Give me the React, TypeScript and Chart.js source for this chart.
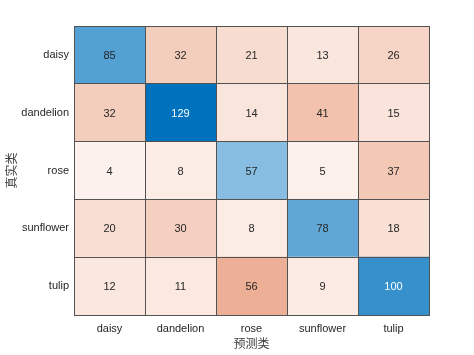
import React, { useEffect, useRef } from "react";
import { Chart, registerables } from "chart.js";

Chart.register(...registerables);

// Row labels (true class) and column labels (predicted class)
const trueClasses = ["daisy", "dandelion", "rose", "sunflower", "tulip"];
const predictedClasses = ["daisy", "dandelion", "rose", "sunflower", "tulip"];

// Confusion counts, one array per true class (columns = predicted class)
const rowDaisy = [85, 32, 21, 13, 26];
const rowDandelion = [32, 129, 14, 41, 15];
const rowRose = [4, 8, 57, 5, 37];
const rowSunflower = [20, 30, 8, 78, 18];
const rowTulip = [12, 11, 56, 9, 100];

const xTitle = "预测类";
const yTitle = "真实类";

const counts = [rowDaisy, rowDandelion, rowRose, rowSunflower, rowTulip];
const maxCount = Math.max(...counts.flat());

const DIAG_RGB = [0, 114, 189];
const OFF_RGB = [217, 83, 25];

function cellColor(v: number, diag: boolean): string {
  const t = Math.min(1, 0.05 + 0.95 * (v / maxCount));
  const base = diag ? DIAG_RGB : OFF_RGB;
  const c = base.map((b) => Math.round(255 - t * (255 - b)));
  return `rgb(${c[0]},${c[1]},${c[2]})`;
}

const FONT = "'Liberation Sans', Arial, Helvetica, sans-serif";
const GRID = "#525252";

const cellLabels = {
  id: "cellLabels",
  afterDatasetsDraw(chart: any) {
    const ctx = chart.ctx;
    ctx.save();
    ctx.font = `11px ${FONT}`;
    ctx.textAlign = "center";
    ctx.textBaseline = "middle";
    chart.data.datasets.forEach((_ds: any, j: number) => {
      const meta = chart.getDatasetMeta(j);
      meta.data.forEach((el: any, i: number) => {
        const { x, y, base } = el.getProps(["x", "y", "base"], true);
        const v = counts[i][j];
        const diag = i === j;
        ctx.fillStyle = diag && v / maxCount > 0.7 ? "#ffffff" : "#262626";
        ctx.fillText(String(v), (x + base) / 2, y + 1);
      });
    });
    ctx.restore();
  },
};

export default function App() {
  const ref = useRef<HTMLCanvasElement | null>(null);

  useEffect(() => {
    document.body.style.margin = "0";
    if (!ref.current) return;
    const datasets = predictedClasses.map((p, j) => ({
      label: p,
      data: trueClasses.map(() => 1),
      backgroundColor: trueClasses.map((_t, i) => cellColor(counts[i][j], i === j)),
      borderWidth: 0,
      barPercentage: 1,
      categoryPercentage: 1,
    }));

    const chart = new Chart(ref.current, {
      type: "bar",
      data: { labels: trueClasses, datasets },
      plugins: [cellLabels],
      options: {
        indexAxis: "y",
        animation: false,
        responsive: true,
        maintainAspectRatio: false,
        layout: { padding: { top: 26, right: 45, bottom: 0, left: 0 } },
        plugins: {
          legend: { display: false },
          tooltip: { enabled: false },
        },
        scales: {
          x: {
            type: "linear",
            stacked: true,
            min: 0,
            max: predictedClasses.length,
            afterBuildTicks: (scale: any) => {
              scale.ticks = predictedClasses.map((_p, i) => ({ value: i + 0.5 }));
            },
            afterFit: (scale: any) => {
              scale.height = 40;
            },
            grid: { offset: true, color: GRID, lineWidth: 1, drawTicks: false, z: 1 },
            border: { display: true, color: GRID, z: 1 },
            ticks: {
              autoSkip: false,
              maxRotation: 0,
              padding: 7,
              color: "#262626",
              font: { family: FONT, size: 11 },
              callback: (_v: any, i: number) => predictedClasses[i],
            },
            title: {
              display: true,
              text: xTitle,
              color: "#404040",
              font: { family: "'Noto Sans CJK SC', sans-serif", size: 12 },
            },
          },
          y: {
            type: "category",
            stacked: true,
            offset: true,
            afterFit: (scale: any) => {
              scale.width = 74;
            },
            grid: { offset: true, color: GRID, lineWidth: 1, drawTicks: false, z: 1 },
            border: { display: true, color: GRID, z: 1 },
            ticks: {
              padding: 5,
              color: "#262626",
              font: { family: FONT, size: 11 },
            },
            title: {
              display: true,
              text: yTitle,
              color: "#404040",
              font: { family: "'Noto Sans CJK SC', sans-serif", size: 12 },
            },
          },
        },
      } as any,
    });
    return () => chart.destroy();
  }, []);

  return (
    <div style={{ width: 474, height: 355, position: "relative", background: "#ffffff" }}>
      <canvas ref={ref} />
    </div>
  );
}
